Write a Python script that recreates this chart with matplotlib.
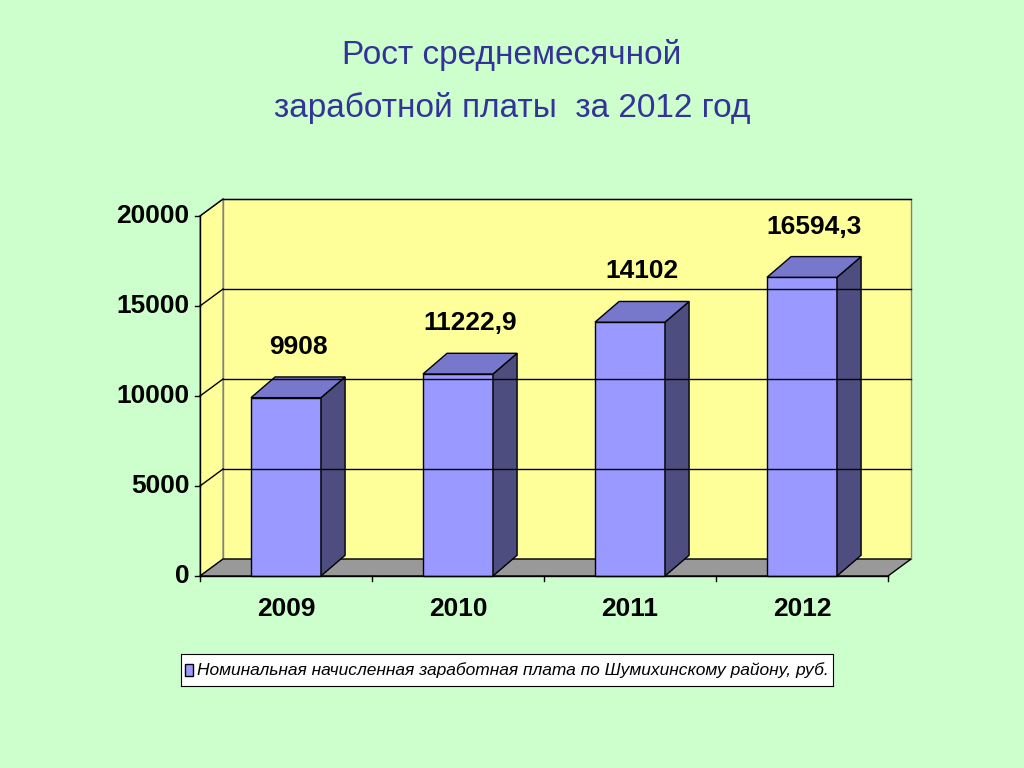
import matplotlib
matplotlib.use("Agg")
import matplotlib.pyplot as plt
from matplotlib.patches import Polygon, Rectangle

years = ["2009", "2010", "2011", "2012"]
values = [9908, 11222.9, 14102, 16594.3]
labels = ["9908", "11222,9", "14102", "16594,3"]
yticks = [0, 5000, 10000, 15000, 20000]

fig = plt.figure(figsize=(10.24, 7.68), dpi=100)
fig.patch.set_facecolor("#CCFFCC")
ax = fig.add_axes([200/1024, 1-576/768, 688/1024, 360/768])
ax.set_xlim(0, 4); ax.set_ylim(0, 20000)
ax.axis("off")
dx, dy = 0.134, 944
wall = "#FFFF99"
ax.add_patch(Polygon([(dx, dy), (4+dx, dy), (4+dx, 20000+dy), (dx, 20000+dy)], fc=wall, ec="#808080", lw=1, clip_on=False))
ax.add_patch(Polygon([(0, 0), (dx, dy), (dx, 20000+dy), (0, 20000)], fc=wall, ec="#808080", lw=1, clip_on=False))
ax.add_patch(Polygon([(0, 0), (4, 0), (4+dx, dy), (dx, dy)], fc="#999999", ec="black", lw=1, clip_on=False))
for t in yticks[1:]:
    ax.plot([dx, 4+dx], [t+dy, t+dy], color="black", lw=1, clip_on=False)
    ax.plot([0, dx], [t, t+dy], color="black", lw=1, clip_on=False)
ax.plot([0, 0], [0, 20000], color="black", lw=1, clip_on=False)
ax.plot([0, 4], [0, 0], color="black", lw=1, clip_on=False)
for t in yticks:
    ax.plot([-0.03, 0], [t, t], color="black", lw=1, clip_on=False)
    ax.text(-0.06, t, str(t), ha="right", va="center", fontsize=19, fontweight="bold", family="Liberation Sans")
for i in range(5):
    ax.plot([i, i], [0, -300], color="black", lw=1, clip_on=False)

w = 0.407
bdx, bdy = 0.14, 1150
for i, (v, lab, yr) in enumerate(zip(values, labels, years)):
    x0 = i + 0.5 - w/2
    x1 = x0 + w
    ax.add_patch(Rectangle((x0, 0), w, v, fc="#9999FF", ec="black", lw=1, clip_on=False))
    ax.add_patch(Polygon([(x1, 0), (x1+bdx, bdy), (x1+bdx, v+bdy), (x1, v)], fc="#4D4D80", ec="black", lw=1, clip_on=False))
    ax.add_patch(Polygon([(x0, v), (x1, v), (x1+bdx, v+bdy), (x0+bdx, v+bdy)], fc="#7777CC", ec="black", lw=1, clip_on=False))
    ax.text(i + 0.5 + bdx/2, v + bdy + 1000, lab, ha="center", va="bottom", fontsize=19, fontweight="bold", family="Liberation Sans")
    ax.text(i + 0.5, -1150, yr, ha="center", va="top", fontsize=19, fontweight="bold", family="Liberation Sans")

fig.text(0.5, 1-55/768, "Рост среднемесячной", ha="center", va="center", fontsize=24, color="#333399", family="Liberation Sans")
fig.text(0.5, 1-108/768, "заработной платы  за 2012 год", ha="center", va="center", fontsize=24, color="#333399", family="Liberation Sans")

lax = fig.add_axes([181/1024, 1-686/768, 652/1024, 32/768])
lax.set_xlim(0, 1); lax.set_ylim(0, 1)
lax.set_xticks([]); lax.set_yticks([])
lax.set_facecolor("white")
for s in lax.spines.values():
    s.set_color("black")
lax.add_patch(Rectangle((0.006, 0.3), 0.012, 0.4, fc="#9999FF", ec="black", lw=1))
lax.text(0.025, 0.5, "Номинальная начисленная заработная плата по Шумихинскому району, руб.", ha="left", va="center", fontsize=12.5, style="italic", family="Liberation Sans")

fig.savefig("out.png", dpi=100, facecolor=fig.get_facecolor())
